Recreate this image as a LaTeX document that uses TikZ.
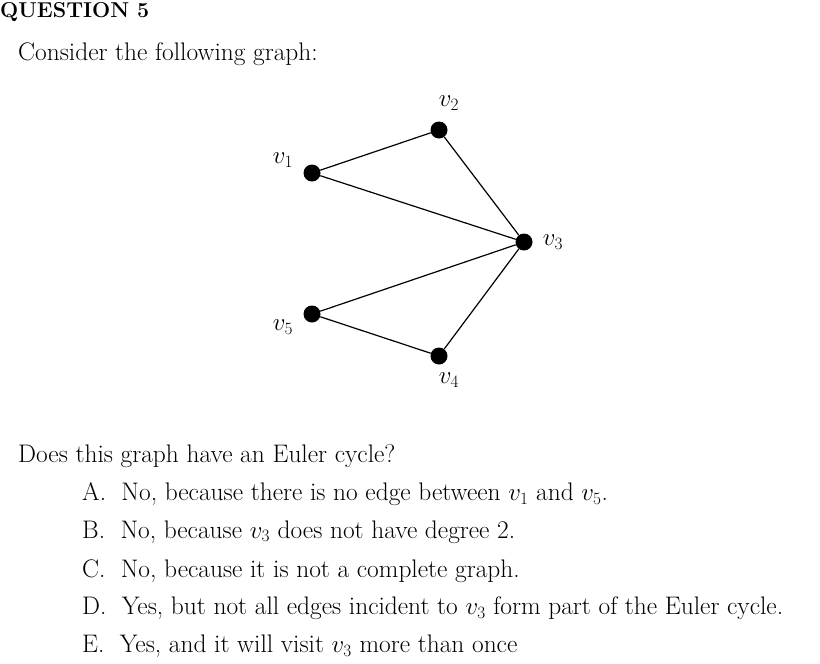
\documentclass[tikz,border=0pt]{standalone}
\begin{document}
\begin{tikzpicture}[x=1pt,y=-1pt,
  vtx/.style={circle,fill=black,inner sep=0pt,minimum size=17pt},
  lbl/.style={font=\fontsize{25}{28}\selectfont},
  txt/.style={anchor=west,inner sep=0pt,font=\fontsize{25.4}{28}\selectfont}]
\useasboundingbox (0,0) rectangle (820,664);
\node[txt,font=\fontsize{21.5}{24}\selectfont\bfseries] (q) at (0,12) {QUESTION 5};
\node[txt] (c) at (18,54) {Consider the following graph:};
\node[vtx] (v1) at (312,173) {};
\node[vtx] (v2) at (439,130) {};
\node[vtx] (v3) at (524,242) {};
\node[vtx] (v4) at (439,356) {};
\node[vtx] (v5) at (312,314) {};
\node[lbl] (l1) at (283,160) {$v_1$};
\node[lbl] (l2) at (449,103) {$v_2$};
\node[lbl] (l3) at (553,242) {$v_3$};
\node[lbl] (l4) at (449,380) {$v_4$};
\node[lbl] (l5) at (283,327) {$v_5$};
\draw[line width=1.2pt] (v1)--(v2) (v2)--(v3) (v1)--(v3) (v3)--(v5) (v3)--(v4) (v5)--(v4);
\node[txt] (d) at (18,456) {Does this graph have an Euler cycle?};
\node[txt] (a) at (82,494) {A.\ \ No, because there is no edge between $v_1$ and $v_5$.};
\node[txt] (b) at (82,532) {B.\ \ No, because $v_3$ does not have degree 2.};
\node[txt] (cc) at (82,571) {C.\ \ No, because it is not a complete graph.};
\node[txt] (dd) at (82,608) {D.\ \ Yes, but not all edges incident to $v_3$ form part of the Euler cycle.};
\node[txt] (e) at (82,646) {E.\ \ Yes, and it will visit $v_3$ more than once};
\end{tikzpicture}
\end{document}
